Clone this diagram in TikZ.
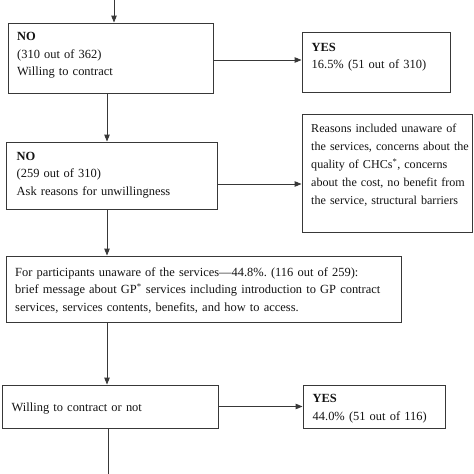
\documentclass[tikz,border=0pt]{standalone}
\usepackage{fontspec}
\setmainfont{Liberation Serif}
\usetikzlibrary{arrows.meta}
\frenchspacing
\begin{document}
\begin{tikzpicture}[x=1pt,y=-1pt,
  boxnode/.style={draw=black!78, line width=0.9pt, inner sep=0pt, fill=white},
  txt/.style={anchor=base west, inner sep=0pt, align=left, text=black!92,
    font=\fontsize{12.45}{17.5}\selectfont},
  txtr/.style={txt, font=\fontsize{12.1}{18.2}\selectfont},
  arr/.style={draw=black!78, line width=0.9pt, -{Triangle[length=7pt,width=5.5pt]}},
  plain/.style={draw=black!78, line width=0.9pt}]
\fill[white] (0,0) rectangle (474,474);
\useasboundingbox (0,0) rectangle (474,474);

% boxes
\node[boxnode, minimum width=205pt, minimum height=70pt] (b1) at (110.5,58) {};
\node[boxnode, minimum width=148pt, minimum height=60pt] (y1) at (376,62) {};
\node[boxnode, minimum width=211pt, minimum height=67pt] (b2) at (111.5,175.5) {};
\node[boxnode, minimum width=170pt, minimum height=118pt] (r) at (387,173) {};
\node[boxnode, minimum width=395pt, minimum height=66pt] (b3) at (203.5,289) {};
\node[boxnode, minimum width=216pt, minimum height=43pt] (b4) at (110,406.5) {};
\node[boxnode, minimum width=142pt, minimum height=43pt] (y2) at (374,406.5) {};

% texts
\node[txt, text width=190pt] (t1) at (17,40.5) {\textbf{NO}\\(310 out of 362)\\Willing to contract};
\node[txt, text width=135pt] (ty1) at (311.5,51) {\textbf{YES}\\16.5\% (51 out of 310)};
\node[txt, text width=200pt] (t2) at (16.5,160) {\textbf{NO}\\(259 out of 310)\\Ask reasons for unwillingness};
\node[txtr, text width=165pt] (tr) at (311,132) {Reasons included unaware of\\the services, concerns about the\\quality of CHCs\textsuperscript{*}, concerns\\about the cost, no benefit from\\the service, structural barriers};
\node[txt, text width=385pt] (t3) at (15,276) {For participants unaware of the services—44.8\%. (116 out of 259):\\brief message about GP\textsuperscript{*} services including introduction to GP contract\\services, services contents, benefits, and how to access.};
\node[txt, text width=200pt] (t4) at (11.5,411) {Willing to contract or not};
\node[txt, text width=130pt] (ty2) at (312.5,402.5) {\textbf{YES}\\44.0\% (51 out of 116)};

% helper coordinates
\coordinate (ctop) at (114,0);
\coordinate (cx) at (107,0);
\coordinate (cy1) at (0,60);
\coordinate (cy2) at (0,184);
\coordinate (cbot) at (108,474);

% connectors
\draw[arr] (ctop) -- (ctop |- b1.north);
\draw[arr] (b1.east |- cy1) -- (y1.west |- cy1);
\draw[arr] (b1.south -| cx) -- (b2.north -| cx);
\draw[arr] (b2.east |- cy2) -- (r.west |- cy2);
\draw[arr] (b2.south -| cx) -- (b3.north -| cx);
\draw[arr] (b3.south -| cx) -- (b4.north -| cx);
\draw[arr] (b4.east) -- (y2.west);
\draw[plain] (b4.south -| cbot) -- (cbot);
\end{tikzpicture}
\end{document}
